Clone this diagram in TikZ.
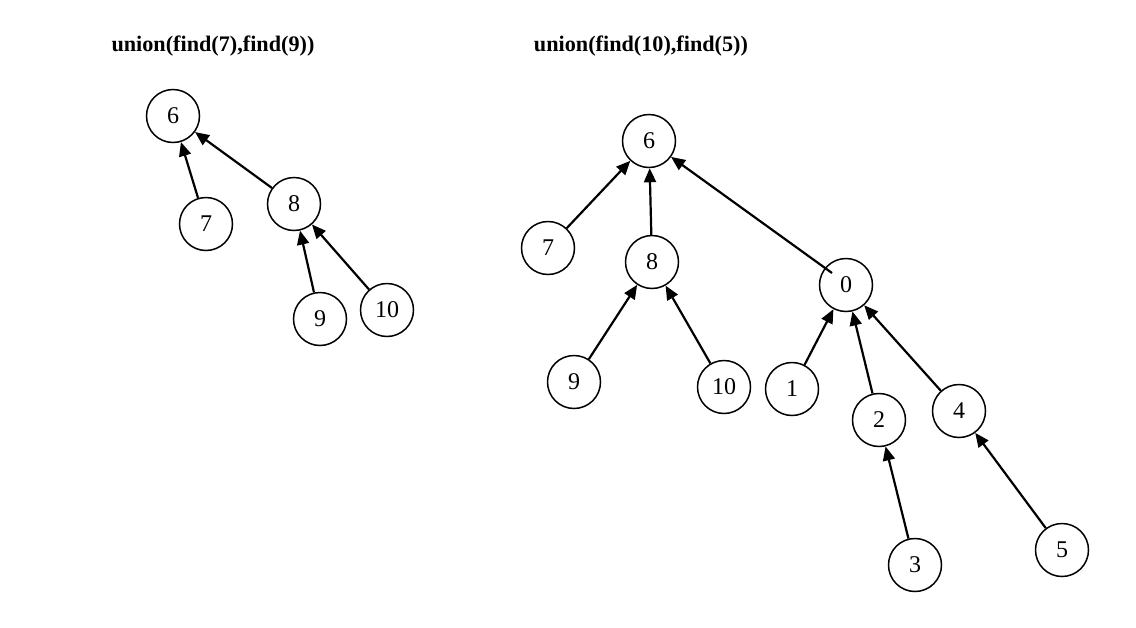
\documentclass[tikz,border=0pt]{standalone}
\usepackage{fontspec}
\setmainfont{Liberation Serif}
\usetikzlibrary{arrows.meta}

\tikzset{
    vertex/.style={circle, draw, line width=0.75pt, minimum size=26.5pt, inner sep=0pt, font=\fontsize{12}{14}\selectfont},
    edge/.style={line width=1.1pt, -{Triangle[length=7pt,width=6pt]}},
    caption/.style={font=\bfseries\fontsize{11.1}{13}\selectfont}
}

\begin{document}
\begin{tikzpicture}[x=0.5pt,y=-0.5pt]
    % Frame (pixel grid of the reference)
    \useasboundingbox (0,0) rectangle (1136,627);

    % Left tree
    \node[caption] (ltitle) at (213,46) {union(find(7),find(9))};
    \node[vertex] (l6) at (173,116) {6};
    \node[vertex] (l7) at (206,224) {7};
    \node[vertex] (l8) at (294,204) {8};
    \node[vertex] (l9) at (320,319) {9};
    \node[vertex] (l10) at (387,310) {10};
    \draw[edge] (l7) -- (l6);
    \draw[edge] (l8) -- (l6);
    \draw[edge] (l9) -- (l8);
    \draw[edge] (l10) -- (l8);

    % Right tree
    \node[caption] (rtitle) at (641,46) {union(find(10),find(5))};
    \node[vertex] (r6) at (649,141) {6};
    \node[vertex] (r7) at (548,248) {7};
    \node[vertex] (r8) at (652,262) {8};
    \node[vertex] (r9) at (574,382) {9};
    \node[vertex] (r10) at (724,387) {10};
    \node[vertex] (r0) at (846,285) {0};
    \node[vertex] (r1) at (792,389) {1};
    \node[vertex] (r2) at (879,420) {2};
    \node[vertex] (r4) at (959,411) {4};
    \node[vertex] (r3) at (915,565) {3};
    \node[vertex] (r5) at (1062,550) {5};
    % the link from 0 starts inside its circle
    \coordinate (r0in) at (832,273);
    \draw[edge] (r7) -- (r6);
    \draw[edge] (r8) -- (r6);
    \draw[edge] (r0in) -- (r6);
    \draw[edge] (r9) -- (r8);
    \draw[edge] (r10) -- (r8);
    \draw[edge] (r1) -- (r0);
    \draw[edge] (r2) -- (r0);
    \draw[edge] (r4) -- (r0);
    \draw[edge] (r3) -- (r2);
    \draw[edge] (r5) -- (r4);
\end{tikzpicture}
\end{document}
